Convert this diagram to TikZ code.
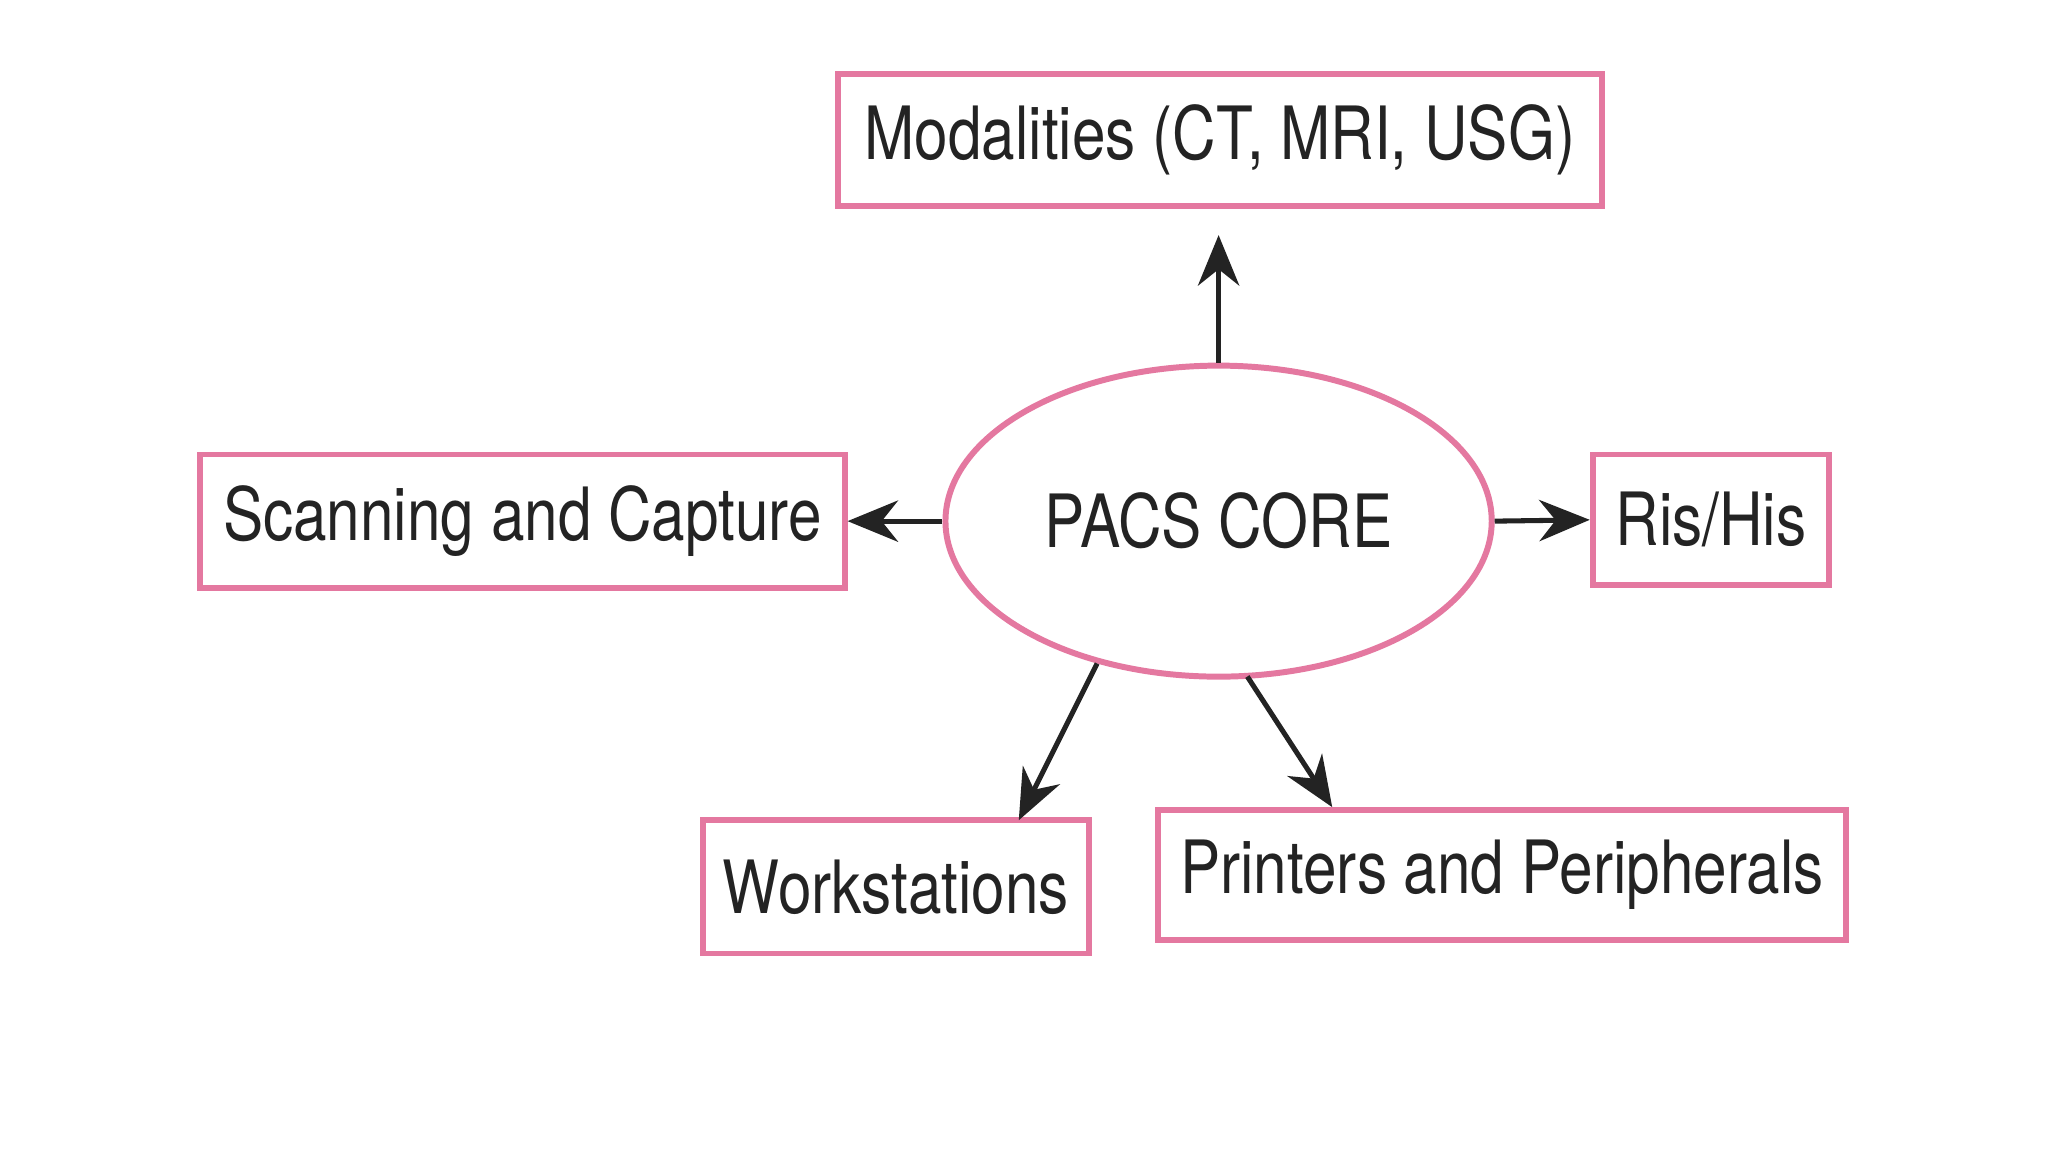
\documentclass[tikz,border=0pt]{standalone}
\usepackage{fontspec}
\setmainfont[FakeStretch=0.82]{TeX Gyre Heros}
\usetikzlibrary{arrows.meta,shapes.geometric}
\definecolor{pinkb}{RGB}{228,120,160}
\definecolor{ink}{RGB}{35,35,35}
\tikzset{
  box/.style={draw=pinkb,line width=1.3pt,fill=white,inner sep=0pt,text=ink,font=\fontsize{16}{19}\selectfont},
  conn/.style={draw=ink,line width=1.1pt,-{Stealth[length=11pt,width=9pt]}}
}
\begin{document}
\begin{tikzpicture}[x=0.01cm,y=-0.01cm]
\useasboundingbox (0,0) rectangle (1568,882);
\node[box,minimum width=5.84cm,minimum height=1.01cm] (mod) at (934,107) {Modalities (CT, MRI, USG)};
\node[box,ellipse,minimum width=4.18cm,minimum height=2.38cm] (core) at (933,399) {PACS CORE};
\node[box,minimum width=4.93cm,minimum height=1.02cm] (scan) at (400,399) {Scanning and Capture};
\node[box,minimum width=1.81cm,minimum height=1.0cm] (ris) at (1310,398) {Ris/His};
\node[box,minimum width=2.96cm,minimum height=1.02cm] (ws) at (686,679) {Workstations};
\node[box,minimum width=5.26cm,minimum height=1.0cm] (pr) at (1150,670) {Printers and Peripherals};
\coordinate (modtip) at (933,180);
\draw[conn] (core.north) -- (modtip);
\draw[conn] (core.west) -- (scan.east);
\draw[conn] (core.east) -- (ris.west);
\draw[conn] (840,508) -- (780,628);
\draw[conn] (955,518) -- (1020,618);
\end{tikzpicture}
\end{document}
